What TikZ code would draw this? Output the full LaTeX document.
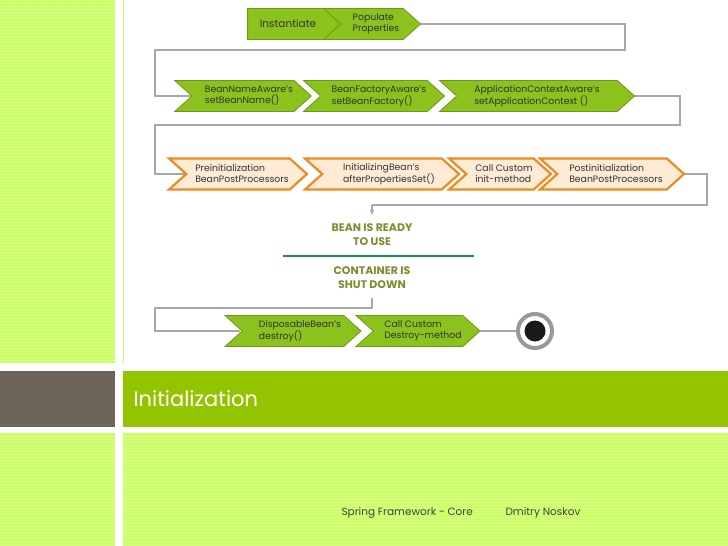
\documentclass[tikz,border=0pt]{standalone}
\usepackage{fontspec}
\setmainfont{Poppins}
\usetikzlibrary{shapes.symbols,arrows.meta}
\definecolor{lg}{HTML}{CCFF66}
\definecolor{tg}{HTML}{94C300}
\definecolor{br}{HTML}{6E655A}
\definecolor{gf}{HTML}{8CC21E}
\definecolor{gd}{HTML}{6C9A12}
\definecolor{of}{HTML}{FDEBD5}
\definecolor{od}{HTML}{EA8C1E}
\definecolor{ln}{HTML}{A8A8A8}
\definecolor{ol}{HTML}{7F8C30}
\definecolor{tl}{HTML}{1E8C5A}
\tikzset{
 chev/.style={signal, signal to=east, signal from=west, signal pointer angle=84,
   minimum height=31pt, inner sep=1pt, font=\fontsize{9.3}{11}\selectfont, align=left, text=black!80},
 gc/.style={chev, fill=gf, draw=gd, line width=0.8pt},
 oc/.style={chev, fill=of, draw=od, line width=2.2pt},
 con/.style={draw=ln, line width=1.4pt},
 big/.style={font=\bfseries\fontsize{11}{14}\selectfont, text=ol, align=center}
}
\begin{document}
\begin{tikzpicture}[x=1pt,y=-1pt]
\useasboundingbox (0,0) rectangle (728,546);
\fill[white] (0,0) rectangle (728,546);
\fill[lg] (0,0) rectangle (115,363);
\fill[br] (0,371) rectangle (115,427);
\fill[tg] (123,371) rectangle (728,427);
\fill[lg] (0,433) rectangle (115,546);
\fill[lg] (123,433) rectangle (728,546);
\foreach \y in {3,6,...,363} \draw[white,opacity=0.25,line width=0.5pt] (0,\y) -- (115,\y);
\foreach \y in {436,439,...,546} \draw[white,opacity=0.25,line width=0.5pt] (0,\y) -- (728,\y);
\draw[lg,line width=0.6pt] (123,0) -- (123,363);

% connectors (behind)
\coordinate (c1) at (625,24);
\coordinate (c2) at (155,50);
\coordinate (c3) at (680,96);
\coordinate (c4) at (155,125);
\coordinate (c5) at (707,174);
\coordinate (c6) at (372,205);
\coordinate (c7) at (155,308);
\draw[con] (415,24) -- (c1) |- (c2) |- (195,96);
\draw[con] (630,96) -- (c3) |- (c4) |- (185,174);
\draw[con] (680,174) -- (c5) |- (c6);
\draw[con,-{Stealth[length=6pt]}] (c6) -- (372,215);
\draw[con] (372,298) |- (c7) |- (240,331);
\draw[con] (475,331) -- (518,331);

% row 1
\node[gc, minimum width=98pt, signal from=nowhere, align=center, font=\fontsize{10.5}{12}\selectfont] (inst) at (288,24) {Instantiate};
\node[gc, minimum width=97pt] (pop) at (372,24) {\hspace*{8pt}Populate\\\hspace*{8pt}Properties};
% row 2
\node[gc, minimum width=128pt] (bna) at (243,96) {\hspace*{12pt}BeanNameAware's\\\hspace*{12pt}setBeanName()};
\node[gc, minimum width=140pt] (bfa) at (374,96) {\hspace*{10pt}BeanFactoryAware's\\\hspace*{10pt}setBeanFactory()};
\node[gc, minimum width=195pt] (aca) at (537,96) {ApplicationContextAware's\\setApplicationContext ()};
% row 3
\node[oc, minimum width=136pt] (pre) at (238,174) {\hspace*{8pt}Preinitialization\\\hspace*{8pt}BeanPostProcessors};
\node[oc, minimum width=154pt] (ib) at (382,174) {\hspace*{14pt}InitializingBean's\\\hspace*{14pt}afterPropertiesSet()};
\node[oc, minimum width=92pt] (cin) at (500,174) {\hspace*{8pt}Call Custom\\\hspace*{8pt}init-method};
\node[oc, minimum width=144pt] (post) at (612,174) {\hspace*{8pt}Postinitialization\\\hspace*{8pt}BeanPostProcessors};
% middle
\node[big] (ready) at (372,235) {BEAN IS READY\\TO USE};
\draw[tl, line width=2.2pt] (283,256) -- (474,256);
\node[big] (shut) at (372,278) {CONTAINER IS\\SHUT DOWN};
% row 4
\node[gc, minimum width=136pt] (dis) at (293,331) {\hspace*{14pt}DisposableBean's\\\hspace*{14pt}destroy()};
\node[gc, minimum width=124pt] (cd) at (418,331) {\hspace*{10pt}Call Custom\\\hspace*{10pt}Destroy-method};
\node[circle, fill=white, draw=gray!80, line width=4pt, minimum size=34pt] (endn) at (535,331) {};
\fill[black!90] (endn.center) circle (10.5pt);

% titles
\node[anchor=west, text=white, font=\fontsize{21}{24}\selectfont] (title) at (130,399) {Initialization};
\node[anchor=west, text=black!75, font=\fontsize{10.5}{12}\selectfont] (f1) at (338,513) {Spring Framework - Core};
\node[anchor=west, text=black!75, font=\fontsize{10.5}{12}\selectfont] (f2) at (502,513) {Dmitry Noskov};
\end{tikzpicture}
\end{document}
